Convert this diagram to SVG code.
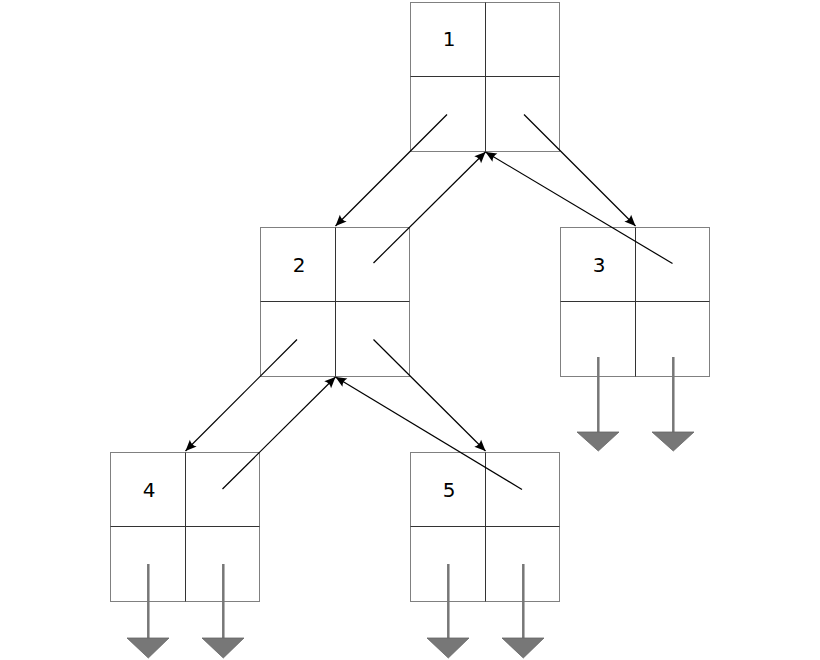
<svg xmlns="http://www.w3.org/2000/svg" width="820" height="660" viewBox="0 0 820 660">
  <style>
    .outer { fill: none; stroke: #808080; stroke-width: 1; }
    .inner { stroke: #333; stroke-width: 1; }
    .num { font-family: "DejaVu Sans", sans-serif; font-size: 20px; fill: #000; text-anchor: middle; }
    .conn { stroke: #000; stroke-width: 1.2; fill: none; }
    .stem { stroke: #777; stroke-width: 2.5; }
    .tri { fill: #777; stroke: #666; stroke-width: 0.8; }
  </style>
  <defs>
    <marker id="ah" viewBox="-12 -6 14 12" markerWidth="14" markerHeight="12" refX="0" refY="0" orient="auto" markerUnits="userSpaceOnUse">
      <path d="M0,0 L-11,-4.8 Q-8,0 -11,4.8 Z" fill="#000"/>
    </marker>
  </defs>
  <rect width="820" height="660" fill="#fff"/>

  <g id="node1">
    <rect class="outer" x="410.5" y="2.5" width="149" height="149"/>
    <line class="inner" x1="485.5" y1="2.5" x2="485.5" y2="151.5"/>
    <line class="inner" x1="410.5" y1="76.5" x2="559.5" y2="76.5"/>
    <text class="num" x="449" y="46">1</text>
  </g>
  <g id="node2">
    <rect class="outer" x="260.5" y="227.5" width="149" height="149"/>
    <line class="inner" x1="335.5" y1="227.5" x2="335.5" y2="376.5"/>
    <line class="inner" x1="260.5" y1="301.5" x2="409.5" y2="301.5"/>
    <text class="num" x="299" y="272">2</text>
  </g>
  <g id="node3">
    <rect class="outer" x="560.5" y="227.5" width="149" height="149"/>
    <line class="inner" x1="635.5" y1="227.5" x2="635.5" y2="376.5"/>
    <line class="inner" x1="560.5" y1="301.5" x2="709.5" y2="301.5"/>
    <text class="num" x="599" y="272">3</text>
    <line class="stem" x1="598.3" y1="357" x2="598.3" y2="433"/>
    <polygon class="tri" points="577,432 619,432 598.3,451"/>
    <line class="stem" x1="673.3" y1="357" x2="673.3" y2="433"/>
    <polygon class="tri" points="652,432 694,432 673.3,451"/>
  </g>
  <g id="node4">
    <rect class="outer" x="110.5" y="452.5" width="149" height="149"/>
    <line class="inner" x1="185.5" y1="452.5" x2="185.5" y2="601.5"/>
    <line class="inner" x1="110.5" y1="526.5" x2="259.5" y2="526.5"/>
    <text class="num" x="149" y="497">4</text>
    <line class="stem" x1="148.3" y1="564" x2="148.3" y2="639"/>
    <polygon class="tri" points="127,638 169,638 148.3,658"/>
    <line class="stem" x1="223.3" y1="564" x2="223.3" y2="639"/>
    <polygon class="tri" points="202,638 244,638 223.3,658"/>
  </g>
  <g id="node5">
    <rect class="outer" x="410.5" y="452.5" width="149" height="149"/>
    <line class="inner" x1="485.5" y1="452.5" x2="485.5" y2="601.5"/>
    <line class="inner" x1="410.5" y1="526.5" x2="559.5" y2="526.5"/>
    <text class="num" x="449" y="497">5</text>
    <line class="stem" x1="448.3" y1="564" x2="448.3" y2="639"/>
    <polygon class="tri" points="427,638 469,638 448.3,658"/>
    <line class="stem" x1="523.3" y1="564" x2="523.3" y2="639"/>
    <polygon class="tri" points="502,638 544,638 523.3,658"/>
  </g>

  <g id="connectors">
    <line class="conn" x1="447" y1="114.5" x2="335.5" y2="226" marker-end="url(#ah)"/>
    <line class="conn" x1="524" y1="114.5" x2="635.5" y2="226" marker-end="url(#ah)"/>
    <line class="conn" x1="373.5" y1="263" x2="485.5" y2="152" marker-end="url(#ah)"/>
    <line class="conn" x1="672.5" y1="263.5" x2="485.5" y2="152" marker-end="url(#ah)"/>
    <line class="conn" x1="297" y1="339.5" x2="185.5" y2="451" marker-end="url(#ah)"/>
    <line class="conn" x1="373.5" y1="339.5" x2="485.5" y2="451" marker-end="url(#ah)"/>
    <line class="conn" x1="222.5" y1="489" x2="335.5" y2="377" marker-end="url(#ah)"/>
    <line class="conn" x1="522" y1="489.5" x2="335.5" y2="377" marker-end="url(#ah)"/>
  </g>
</svg>
